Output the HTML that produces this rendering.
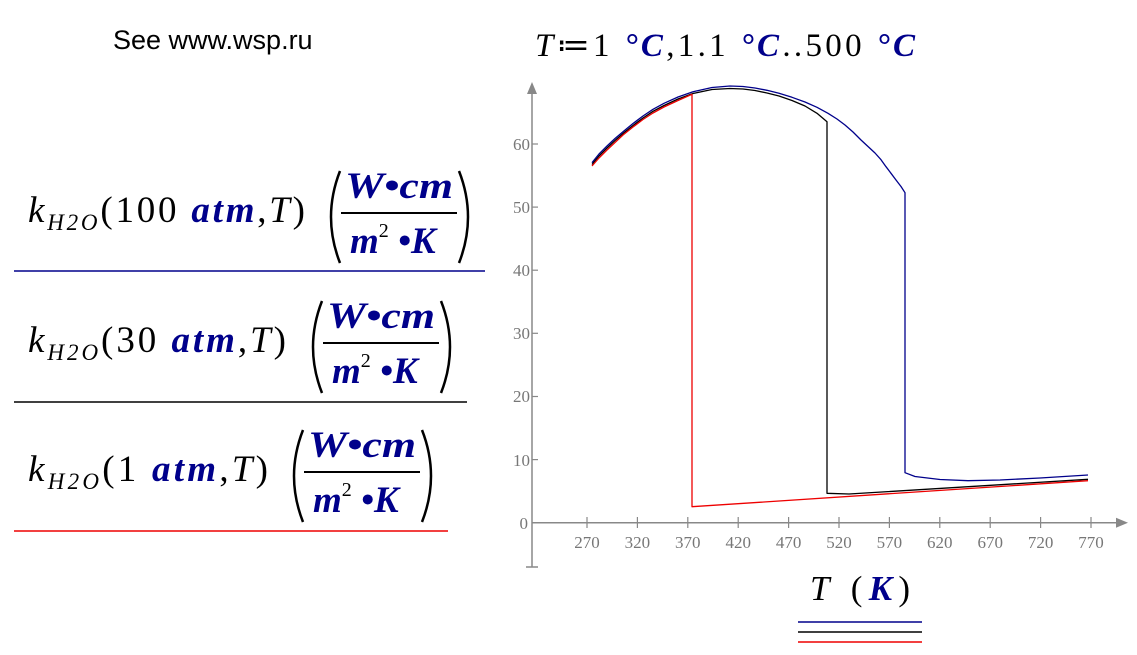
<!DOCTYPE html>
<html><head><meta charset="utf-8"><style>
body{margin:0;background:#fff}
svg{display:block}
.s{font-family:"Liberation Serif",serif}
.b{fill:#00008b;font-weight:bold;font-style:italic}
.i{font-style:italic}
.t{font-family:"Liberation Serif",serif;font-size:17px;fill:#777}
</style></head><body>
<svg width="1137" height="655" viewBox="0 0 1137 655" xmlns="http://www.w3.org/2000/svg">
<text x="113" y="49" font-family="Liberation Sans,sans-serif" font-size="27" fill="#000">See www.wsp.ru</text>
<text x="535" y="56" class="s" font-size="33" textLength="380" lengthAdjust="spacing"><tspan class="i">T</tspan>≔1 <tspan class="b">°C</tspan>,1.1 <tspan class="b">°C</tspan>..500 <tspan class="b">°C</tspan></text>

<g class="s" font-size="37">
<!-- row1 -->
<text x="28" y="222" textLength="277" lengthAdjust="spacing"><tspan class="i">k</tspan><tspan class="i" font-size="23" dy="8">H2O</tspan><tspan dy="-8">(100 </tspan><tspan class="b">atm</tspan>,<tspan class="i">T</tspan>)</text>
<path d="M340,171 Q322,217 340,263" fill="none" stroke="#000" stroke-width="2.5"/>
<path d="M459,171 Q477,217 459,263" fill="none" stroke="#000" stroke-width="2.5"/>
<text x="345" y="198" class="b" textLength="108" lengthAdjust="spacingAndGlyphs">W•cm</text>
<line x1="341" y1="213" x2="457" y2="213" stroke="#000" stroke-width="2"/>
<text x="350" y="253" class="b">m<tspan font-size="20" dy="-16" fill="#000" font-weight="normal" font-style="normal">2</tspan><tspan dy="16"> •K</tspan></text>
<line x1="14" y1="271" x2="485" y2="271" stroke="#00008b" stroke-width="1.5"/>
<!-- row2 -->
<text x="28" y="352" textLength="258" lengthAdjust="spacing"><tspan class="i">k</tspan><tspan class="i" font-size="23" dy="8">H2O</tspan><tspan dy="-8">(30 </tspan><tspan class="b">atm</tspan>,<tspan class="i">T</tspan>)</text>
<path d="M322,301 Q304,347 322,393" fill="none" stroke="#000" stroke-width="2.5"/>
<path d="M441,301 Q459,347 441,393" fill="none" stroke="#000" stroke-width="2.5"/>
<text x="327" y="328" class="b" textLength="108" lengthAdjust="spacingAndGlyphs">W•cm</text>
<line x1="323" y1="343" x2="439" y2="343" stroke="#000" stroke-width="2"/>
<text x="332" y="383" class="b">m<tspan font-size="20" dy="-16" fill="#000" font-weight="normal" font-style="normal">2</tspan><tspan dy="16"> •K</tspan></text>
<line x1="14" y1="402" x2="467" y2="402" stroke="#000" stroke-width="1.5"/>
<!-- row3 -->
<text x="28" y="481" textLength="240" lengthAdjust="spacing"><tspan class="i">k</tspan><tspan class="i" font-size="23" dy="8">H2O</tspan><tspan dy="-8">(1 </tspan><tspan class="b">atm</tspan>,<tspan class="i">T</tspan>)</text>
<path d="M303,430 Q285,476 303,522" fill="none" stroke="#000" stroke-width="2.5"/>
<path d="M422,430 Q440,476 422,522" fill="none" stroke="#000" stroke-width="2.5"/>
<text x="308" y="457" class="b" textLength="108" lengthAdjust="spacingAndGlyphs">W•cm</text>
<line x1="304" y1="472" x2="420" y2="472" stroke="#000" stroke-width="2"/>
<text x="313" y="512" class="b">m<tspan font-size="20" dy="-16" fill="#000" font-weight="normal" font-style="normal">2</tspan><tspan dy="16"> •K</tspan></text>
<line x1="14" y1="531" x2="448" y2="531" stroke="#e00" stroke-width="1.5"/>
</g>

<!-- axes -->
<g stroke="#888" stroke-width="1.5" fill="none">
<line x1="532" y1="92" x2="532" y2="567"/>
<line x1="526" y1="567" x2="538" y2="567"/>
<line x1="532" y1="522.7" x2="1118" y2="522.7"/>
</g>
<polygon points="532,82 527,94 537,94" fill="#888"/>
<polygon points="1128,522.7 1116,517.7 1116,527.7" fill="#888"/>
<g stroke="#888" stroke-width="1.2">
<line x1="532" y1="144" x2="538" y2="144"/><line x1="532" y1="207.1" x2="538" y2="207.1"/><line x1="532" y1="270.2" x2="538" y2="270.2"/><line x1="532" y1="333.3" x2="538" y2="333.3"/><line x1="532" y1="396.5" x2="538" y2="396.5"/><line x1="532" y1="459.6" x2="538" y2="459.6"/>
<line x1="587" y1="517" x2="587" y2="528"/><line x1="637.4" y1="517" x2="637.4" y2="528"/><line x1="687.8" y1="517" x2="687.8" y2="528"/><line x1="738.2" y1="517" x2="738.2" y2="528"/><line x1="788.6" y1="517" x2="788.6" y2="528"/><line x1="839" y1="517" x2="839" y2="528"/><line x1="889.4" y1="517" x2="889.4" y2="528"/><line x1="939.8" y1="517" x2="939.8" y2="528"/><line x1="990.2" y1="517" x2="990.2" y2="528"/><line x1="1040.6" y1="517" x2="1040.6" y2="528"/><line x1="1091" y1="517" x2="1091" y2="528"/>
</g>
<g class="t" text-anchor="end">
<text x="530" y="150">60</text><text x="530" y="213">50</text><text x="530" y="276">40</text><text x="530" y="339">30</text><text x="530" y="402">20</text><text x="530" y="466">10</text><text x="528" y="529">0</text>
</g>
<g class="t" text-anchor="middle">
<text x="587" y="548">270</text><text x="637.4" y="548">320</text><text x="687.8" y="548">370</text><text x="738.2" y="548">420</text><text x="788.6" y="548">470</text><text x="839" y="548">520</text><text x="889.4" y="548">570</text><text x="939.8" y="548">620</text><text x="990.2" y="548">670</text><text x="1040.6" y="548">720</text><text x="1091" y="548">770</text>
</g>

<!-- series -->
<g fill="none" stroke-width="1.3" stroke-linejoin="round">
<polyline stroke="#00008b" points="592,162.7 599,154 607,146 615,138.5 623,131.7 633,123.5 643,116 653,109.3 664,103.3 678,97 693,91.7 712,87.5 730,86 743,86.5 755,88 767,90.3 779,93.3 792,97.3 805,102 817,107.3 828,113.3 837,119 845,125 853,132 861,140 868,146.5 875,153 881,159.7 886,166.7 891,173.3 896,180 901,186.5 905,192.7 905,472.7 915,476.5 940,479.5 968,480.7 1000,480 1040,478 1088,475"/>
<polyline stroke="#000" points="592,164.5 599,156 607,148 615,140.5 623,133.5 633,125.5 643,118 653,111.3 664,105.5 678,99 693,93.5 712,89.5 730,88.5 743,89 755,90.5 767,93 779,96 792,100.5 805,106 817,113.3 827,121.7 827,493.3 849,494 1088,479.3"/>
<polyline stroke="#e00" points="592,166 599,158 607,150 615,142.5 623,135 633,127 643,119.5 653,113 664,107 678,100.5 692,94.3 692,506.7 1088,480.7"/>
</g>

<text x="810" y="600" class="s" font-size="35" textLength="100" lengthAdjust="spacing"><tspan class="i">T</tspan> (<tspan class="b">K</tspan>)</text>
<line x1="798" y1="622" x2="922" y2="622" stroke="#00008b" stroke-width="1.5"/>
<line x1="798" y1="632" x2="922" y2="632" stroke="#000" stroke-width="1.5"/>
<line x1="798" y1="642" x2="922" y2="642" stroke="#e00" stroke-width="1.5"/>
</svg>
</body></html>
